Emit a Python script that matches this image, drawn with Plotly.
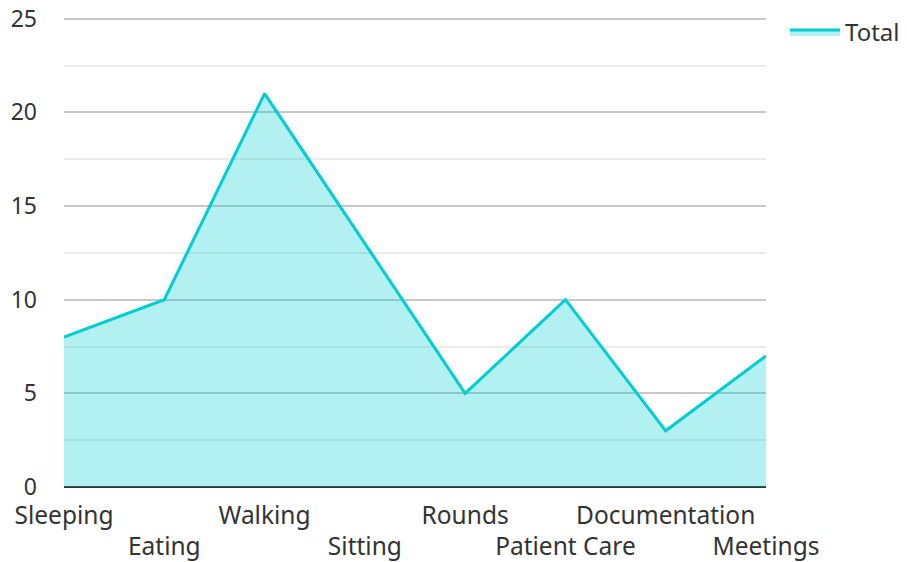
import plotly.graph_objects as go

categories = ["Sleeping", "Eating", "Walking", "Sitting", "Rounds", "Patient Care", "Documentation", "Meetings"]
values = [8, 10, 21, 13, 5, 10, 3, 7]
series_name = "Total"

tick_text = [c if i % 2 == 0 else "<br>" + c for i, c in enumerate(categories)]

fig = go.Figure()
fig.add_trace(go.Scatter(
    x=list(range(len(categories))), y=values, name=series_name,
    mode="lines", fill="tozeroy",
    line=dict(color="#00CED1", width=3),
    fillcolor="rgba(0,206,209,0.3)",
))

fig.update_layout(
    width=907, height=562,
    margin=dict(l=64, r=141, t=15, b=75),
    paper_bgcolor="white", plot_bgcolor="white",
    font=dict(family="Noto Sans", size=24, color="#333333"),
    showlegend=True,
    legend=dict(xref="container", yref="container", x=785 / 907, y=1 - 10 / 562,
                xanchor="left", yanchor="top", itemwidth=50,
                font=dict(size=24, color="#333333"), bgcolor="rgba(0,0,0,0)"),
    xaxis=dict(
        range=[0, len(categories) - 1], automargin=False, tickangle=0,
        tickmode="array", tickvals=list(range(len(categories))), ticktext=tick_text,
        showgrid=False, zeroline=False, showline=False, ticks="",
        ticklabelstandoff=11,
        tickfont=dict(size=24.5, color="#333333"),
    ),
    yaxis=dict(
        range=[0, 25.2], tickmode="array", tickvals=[0, 5, 10, 15, 20, 25], automargin=False,
        showgrid=True, gridcolor="#c8c8c8", gridwidth=1.5,
        minor=dict(tickmode="array", tickvals=[2.5, 7.5, 12.5, 17.5, 22.5],
                   showgrid=True, gridcolor="#ebebeb", gridwidth=1.5),
        zeroline=True, zerolinecolor="#333333", zerolinewidth=2,
        showline=False, ticks="", ticklabelstandoff=26,
        tickfont=dict(size=23, color="#333333"),
    ),
)

fig.write_html("out.html")
